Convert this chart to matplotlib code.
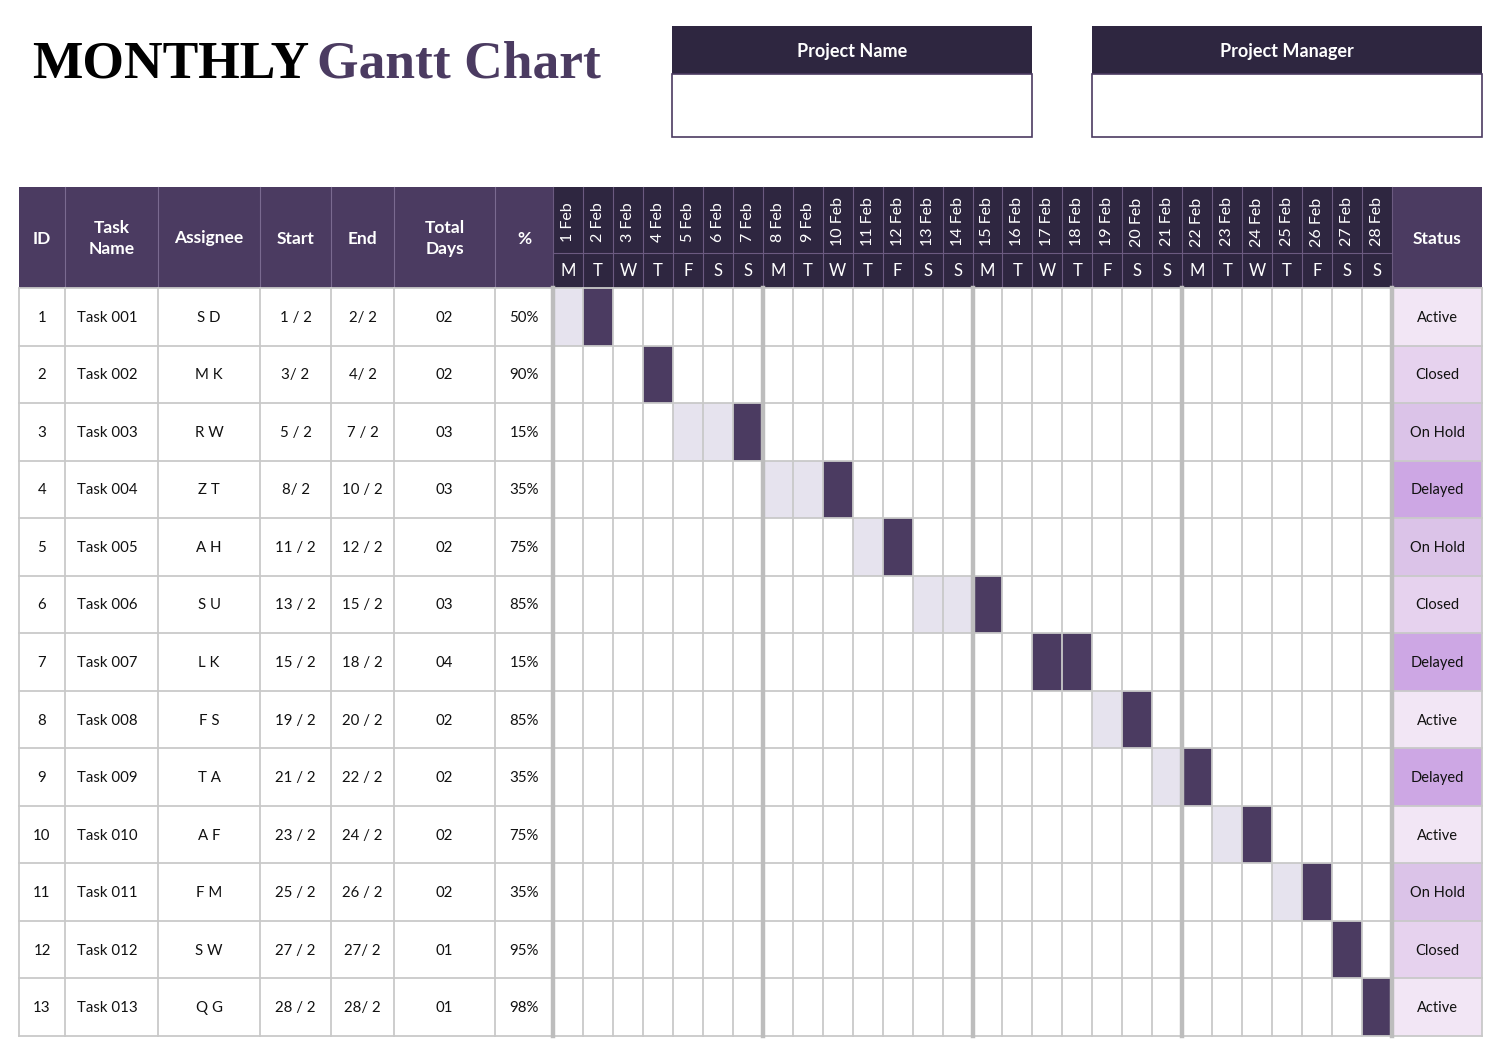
import matplotlib
matplotlib.use("Agg")
import matplotlib.pyplot as plt
from matplotlib.patches import Rectangle

# ---- data ----
ids = list(range(1, 14))
task_names = [f"Task {i:03d}" for i in ids]
assignees = ["S D", "M K", "R W", "Z T", "A H", "S U", "L K", "F S", "T A", "A F", "F M", "S W", "Q G"]
starts = ["1 / 2", "3/ 2", "5 / 2", "8/ 2", "11 / 2", "13 / 2", "15 / 2", "19 / 2", "21 / 2", "23 / 2", "25 / 2", "27 / 2", "28 / 2"]
ends = ["2/ 2", "4/ 2", "7 / 2", "10 / 2", "12 / 2", "15 / 2", "18 / 2", "20 / 2", "22 / 2", "24 / 2", "26 / 2", "27/ 2", "28/ 2"]
total_days = ["02", "02", "03", "03", "02", "03", "04", "02", "02", "02", "02", "01", "01"]
percent = ["50%", "90%", "15%", "35%", "75%", "85%", "15%", "85%", "35%", "75%", "35%", "95%", "98%"]
statuses = ["Active", "Closed", "On Hold", "Delayed", "On Hold", "Closed", "Delayed",
            "Active", "Delayed", "Active", "On Hold", "Closed", "Active"]
# days shaded in the timeline (planned = light, done = dark)
light_days = [[1], [], [5, 6], [8, 9], [11], [13, 14], [], [19], [21], [23], [25], [], []]
dark_days = [[2], [4], [7], [10], [12], [15], [17, 18], [20], [22], [24], [26], [27], [28]]
days = list(range(1, 29))
weekdays = ["M", "T", "W", "T", "F", "S", "S"] * 4

# ---- style ----
HEAD = "#4B3B61"
HEAD_DARK = "#2E2640"
BAR = "#4B3B61"
LIGHT = "#E6E3EE"
GRID = "#C9C9C9"
WEEK = "#BDBDBD"
status_colors = {"Active": "#F2E6F5", "Closed": "#E6D2EE", "On Hold": "#DBC3E8", "Delayed": "#CDA7E4"}
FONT = "Lato"

fig = plt.figure(figsize=(15, 10.61), dpi=100)
ax = fig.add_axes([0, 0, 1, 1])
ax.set_xlim(0, 1500)
ax.set_ylim(1061, 0)
ax.axis("off")

# title
ax.text(32, 65, "MONTHLY", fontsize=38.5, fontweight="bold", family="Liberation Serif",
        color="black", va="center", ha="left")
ax.text(317, 65, "Gantt Chart", fontsize=38.5, fontweight="bold", family="Liberation Serif",
        color=HEAD, va="center", ha="left")

# project boxes
for x0, x1, label in [(672, 1032, "Project Name"), (1092, 1482, "Project Manager")]:
    ax.add_patch(Rectangle((x0, 26), x1 - x0, 48, facecolor=HEAD_DARK, edgecolor="none"))
    ax.add_patch(Rectangle((x0, 74), x1 - x0, 63, facecolor="white", edgecolor=HEAD, lw=1.2))
    ax.text((x0 + x1) / 2, 51, label, color="white", fontsize=13, fontweight="bold",
            family=FONT, ha="center", va="center")

# table geometry
col_edges = [19, 65, 158, 260, 331, 394, 495, 553]
day_x0, day_x1 = 553, 1392
status_x1 = 1482
dw = (day_x1 - day_x0) / len(days)
top, sub, body_top = 187, 253, 288
rh = (1036 - body_top) / len(ids)

# header backgrounds
ax.add_patch(Rectangle((19, top), day_x0 - 19, body_top - top, facecolor=HEAD, edgecolor="none"))
ax.add_patch(Rectangle((day_x0, top), day_x1 - day_x0, body_top - top, facecolor=HEAD_DARK, edgecolor="none"))
ax.add_patch(Rectangle((day_x1, top), status_x1 - day_x1, body_top - top, facecolor=HEAD, edgecolor="none"))

headers = ["ID", "Task\nName", "Assignee", "Start", "End", "Total\nDays", "%"]
for i, h in enumerate(headers):
    cx = (col_edges[i] + col_edges[i + 1]) / 2
    ax.text(cx, (top + body_top) / 2 + 1, h, color="white", fontsize=12.5, fontweight="bold",
            family=FONT, ha="center", va="center", linespacing=1.35)
    if i > 0:
        ax.plot([col_edges[i]] * 2, [top, body_top], color="#7A6A90", lw=0.8)
ax.text((day_x1 + status_x1) / 2, (top + body_top) / 2 + 1, "Status", color="white", fontsize=12.5,
        fontweight="bold", family=FONT, ha="center", va="center")

for j, d in enumerate(days):
    cx = day_x0 + (j + 0.5) * dw
    ax.text(cx, (top + sub) / 2 + 2, f"{d} Feb", color="white", fontsize=11.5, rotation=90,
            family=FONT, ha="center", va="center")
    ax.text(cx, (sub + body_top) / 2 + 1, weekdays[j], color="white", fontsize=12,
            family=FONT, ha="center", va="center")
for j in range(len(days) + 1):
    x = day_x0 + j * dw
    ax.plot([x, x], [top, body_top], color="#6B5A80", lw=0.8)
ax.plot([day_x0, day_x1], [sub, sub], color="#6B5A80", lw=0.8)

# body rows
for r in range(len(ids)):
    y0 = body_top + r * rh
    cy = y0 + rh / 2 + 1
    for d in light_days[r]:
        ax.add_patch(Rectangle((day_x0 + (d - 1) * dw, y0), dw, rh, facecolor=LIGHT, edgecolor="none"))
    for d in dark_days[r]:
        ax.add_patch(Rectangle((day_x0 + (d - 1) * dw, y0), dw, rh, facecolor=BAR, edgecolor="none", zorder=3))
    ax.add_patch(Rectangle((day_x1, y0), status_x1 - day_x1, rh,
                           facecolor=status_colors[statuses[r]], edgecolor="none"))
    vals = [str(ids[r]), task_names[r], assignees[r], starts[r], ends[r], total_days[r], percent[r]]
    for i, v in enumerate(vals):
        if i == 1:
            ax.text(col_edges[i] + 12, cy, v, fontsize=10.8, family=FONT, ha="left", va="center", color="#111111")
        else:
            ax.text((col_edges[i] + col_edges[i + 1]) / 2, cy, v, fontsize=10.8, family=FONT,
                    ha="center", va="center", color="#111111")
    ax.text((day_x1 + status_x1) / 2, cy, statuses[r], fontsize=10.5, family=FONT,
            ha="center", va="center", color="#111111")

# grid lines
for r in range(len(ids) + 1):
    y = body_top + r * rh
    ax.plot([19, status_x1], [y, y], color=GRID, lw=1.3, zorder=4)
for x in col_edges[:-1]:
    ax.plot([x, x], [body_top, 1036], color=GRID, lw=1.3, zorder=4)
for j in range(len(days) + 1):
    x = day_x0 + j * dw
    week_edge = j % 7 == 0
    ax.plot([x, x], [body_top, 1036], color=WEEK if week_edge else GRID,
            lw=3.2 if week_edge else 1.3, zorder=4)
ax.plot([status_x1, status_x1], [body_top, 1036], color=GRID, lw=1.3, zorder=4)

fig.savefig("out.png", dpi=100, facecolor="white")
